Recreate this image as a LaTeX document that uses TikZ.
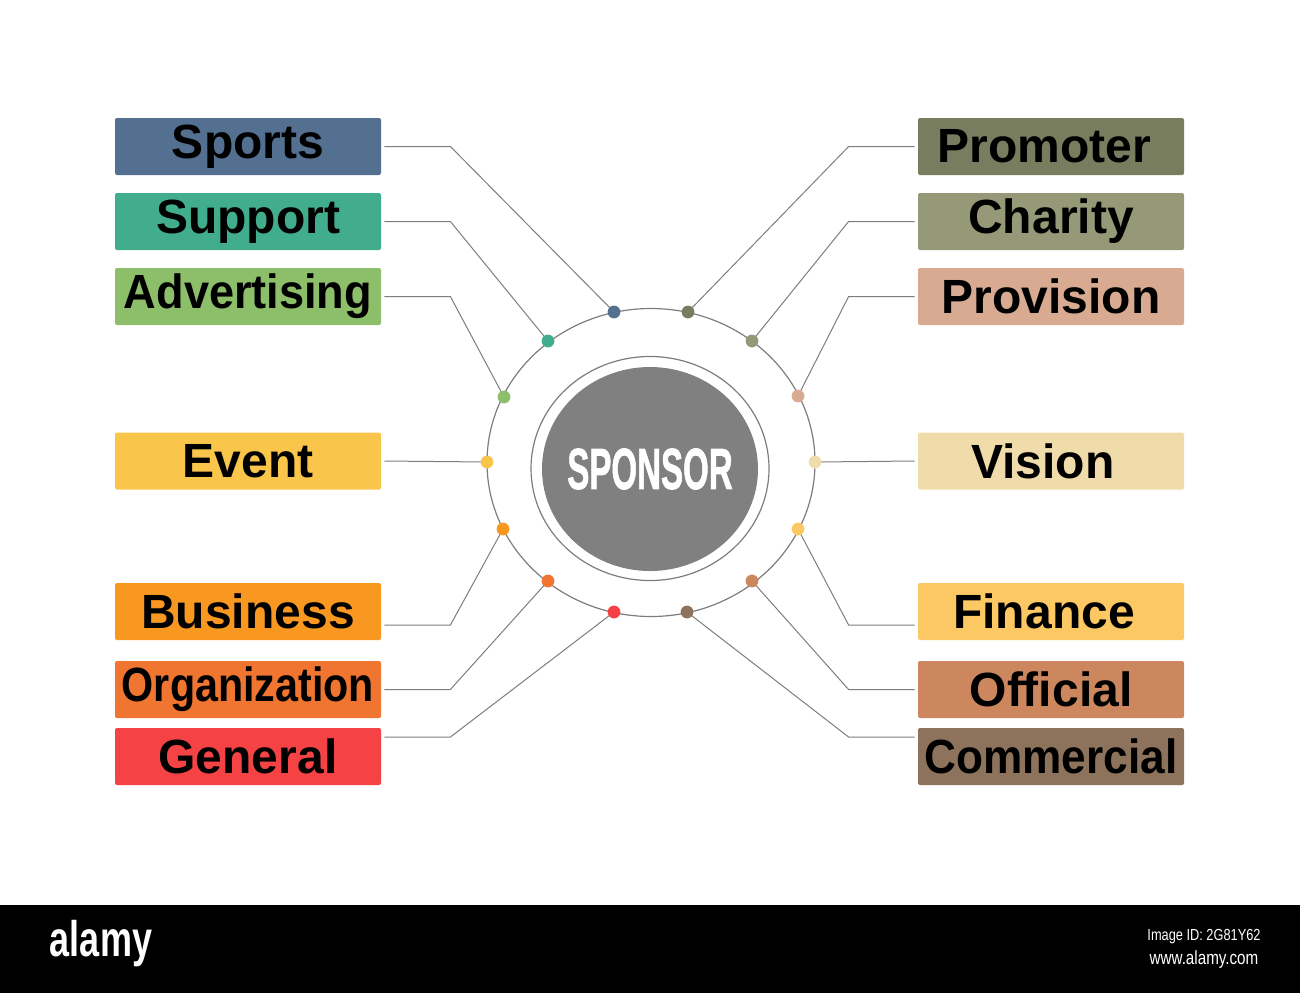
\documentclass[tikz,border=0pt]{standalone}
\usepackage{fontspec}
\setmainfont{Liberation Sans}
\newfontface\hubfont{Liberation Sans Bold}[FakeBold=1.5]

\definecolor{sports}     {RGB}{84,112,145}
\definecolor{support}    {RGB}{65,173,140}
\definecolor{advertising}{RGB}{141,190,105}
\definecolor{event}      {RGB}{249,197,75}
\definecolor{business}   {RGB}{248,152,33}
\definecolor{organization}{RGB}{240,117,48}
\definecolor{general}    {RGB}{245,66,68}
\definecolor{promoter}   {RGB}{120,125,95}
\definecolor{charity}    {RGB}{150,153,120}
\definecolor{provision}  {RGB}{215,170,145}
\definecolor{vision}     {RGB}{240,220,170}
\definecolor{finance}    {RGB}{252,200,100}
\definecolor{official}   {RGB}{205,135,95}
\definecolor{commercial} {RGB}{142,115,92}
\definecolor{hub}        {RGB}{128,128,128}
\definecolor{linkgray}   {RGB}{125,125,125}

\tikzset{
  tag/.style={rounded corners=1pt, minimum width=133pt, minimum height=28.5pt,
    inner sep=0pt, font=\fontsize{24}{24}\selectfont\bfseries},
  link/.style={draw=linkgray, line width=0.5pt},
  ring/.style={draw=linkgray, line width=0.6pt},
}

\begin{document}
\begin{tikzpicture}[x=0.5pt,y=-0.5pt]

    \useasboundingbox (0,0) rectangle (1300,993);

    % hub
    \draw[ring] (651,462.5) ellipse (82pt and 77pt);
    \draw[ring] (650,468.5) ellipse (59.5pt and 56pt);
    \fill[hub] (650,469) ellipse (54pt and 51pt);
    \node[text=white, font=\fontsize{29}{29}\hubfont] (sponsor) at (650,469)
      {\scalebox{0.57}[1]{SPONSOR}};

    % points on the ring
    \coordinate (pSports)       at (614,312);
    \coordinate (pSupport)      at (548,341);
    \coordinate (pAdvertising)  at (504,397);
    \coordinate (pEvent)        at (487,462);
    \coordinate (pBusiness)     at (503,529);
    \coordinate (pOrganization) at (548,581);
    \coordinate (pGeneral)      at (614,612);
    \coordinate (pPromoter)     at (688,312);
    \coordinate (pCharity)      at (752,341);
    \coordinate (pProvision)    at (798,396);
    \coordinate (pVision)       at (815,462);
    \coordinate (pFinance)      at (798,529);
    \coordinate (pOfficial)     at (752,581);
    \coordinate (pCommercial)   at (687,612);

    % left tags
    \node[tag, fill=sports]       (sports)       at (248,146.5) {\raisebox{-1pt}{Sports}};
    \node[tag, fill=support]      (support)      at (248,221.5) {\raisebox{3pt}{Support}};
    \node[tag, fill=advertising]  (advertising)  at (248,296.5) {\raisebox{1.5pt}{\scalebox{0.94}[1]{Advertising}}};
    \node[tag, fill=event]        (event)        at (248,461)   {Event};
    \node[tag, fill=business]     (business)     at (248,611.5) {Business};
    \node[tag, fill=organization] (organization) at (248,689.5) {\scalebox{0.86}[1]{Organization}};
    \node[tag, fill=general]      (general)      at (248,756.5) {General};

    % right tags
    \node[tag, fill=promoter]     (promoter)     at (1051,146.5) {\hspace{-7pt}Promoter};
    \node[tag, fill=charity]      (charity)      at (1051,221.5) {Charity};
    \node[tag, fill=provision]    (provision)    at (1051,296.5) {Provision};
    \node[tag, fill=vision]       (vision)       at (1051,461)   {\hspace{-8pt}Vision};
    \node[tag, fill=finance]      (finance)      at (1051,611.5) {\hspace{-7pt}Finance};
    \node[tag, fill=official]     (official)     at (1051,689.5) {Official};
    \node[tag, fill=commercial]   (commercial)   at (1051,756.5) {\scalebox{0.92}[1]{Commercial}};

    % links, left
    \draw[link] ([xshift=1.5pt]sports.east) -- ++(66,0) -- (pSports);
    \draw[link] ([xshift=1.5pt]support.east) -- ++(66,0) -- (pSupport);
    \draw[link] ([xshift=1.5pt]advertising.east) -- ++(66,0) -- (pAdvertising);
    \draw[link] ([xshift=1.5pt]event.east) -- (pEvent);
    \draw[link] ([xshift=1.5pt,yshift=-6.75pt]business.east) -- ++(66,0) -- (pBusiness);
    \draw[link] ([xshift=1.5pt]organization.east) -- ++(66,0) -- (pOrganization);
    \draw[link] ([xshift=1.5pt,yshift=9.75pt]general.east) -- ++(66,0) -- (pGeneral);

    % links, right
    \draw[link] ([xshift=-1.5pt]promoter.west) -- ++(-66,0) -- (pPromoter);
    \draw[link] ([xshift=-1.5pt]charity.west) -- ++(-66,0) -- (pCharity);
    \draw[link] ([xshift=-1.5pt]provision.west) -- ++(-66,0) -- (pProvision);
    \draw[link] ([xshift=-1.5pt]vision.west) -- (pVision);
    \draw[link] ([xshift=-1.5pt,yshift=-6.75pt]finance.west) -- ++(-66,0) -- (pFinance);
    \draw[link] ([xshift=-1.5pt]official.west) -- ++(-66,0) -- (pOfficial);
    \draw[link] ([xshift=-1.5pt,yshift=9.75pt]commercial.west) -- ++(-66,0) -- (pCommercial);

    % dots
    \fill[sports]       (pSports)       circle (3.2pt);
    \fill[support]      (pSupport)      circle (3.2pt);
    \fill[advertising]  (pAdvertising)  circle (3.2pt);
    \fill[event]        (pEvent)        circle (3.2pt);
    \fill[business]     (pBusiness)     circle (3.2pt);
    \fill[organization] (pOrganization) circle (3.2pt);
    \fill[general]      (pGeneral)      circle (3.2pt);
    \fill[promoter]     (pPromoter)     circle (3.2pt);
    \fill[charity]      (pCharity)      circle (3.2pt);
    \fill[provision]    (pProvision)    circle (3.2pt);
    \fill[vision]       (pVision)       circle (3.2pt);
    \fill[finance]      (pFinance)      circle (3.2pt);
    \fill[official]     (pOfficial)     circle (3.2pt);
    \fill[commercial]   (pCommercial)   circle (3.2pt);

    % footer bar
    \fill[black] (0,905) rectangle (1300,993);
    \node[text=white, font=\fontsize{25}{25}\selectfont\bfseries] (brand) at (101,944)
      {\scalebox{0.72}[1]{alamy}};
    \node[text=white, font=\fontsize{8}{8}\selectfont] (imageid) at (1204,937)
      {\scalebox{0.8}[1]{Image ID: 2G81Y62}};
    \node[text=white, font=\fontsize{9.5}{9.5}\selectfont] (site) at (1204,960)
      {\scalebox{0.8}[1]{www.alamy.com}};

  \end{tikzpicture}
\end{document}
